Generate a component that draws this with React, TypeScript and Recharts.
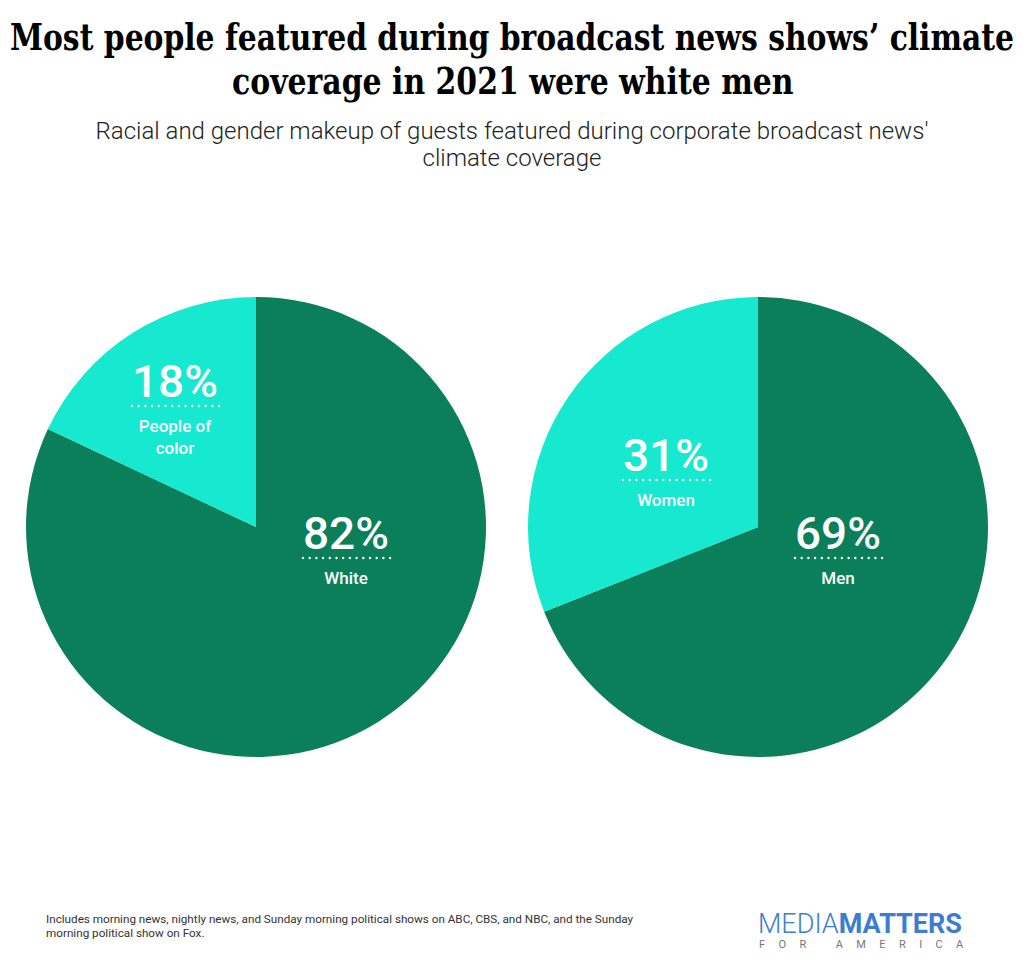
import { PieChart, Pie, Cell } from "recharts";

const raceNames = ["White", "People of color"];
const raceValues = [82, 18];
const genderNames = ["Men", "Women"];
const genderValues = [69, 31];

const titleLines = [
  "Most people featured during broadcast news shows’ climate",
  "coverage in 2021 were white men",
];

const DARK = "#0a7f5a";
const LIGHT = "#17e8d0";

const raceData = raceNames.map((name, i) => ({ name, value: raceValues[i] }));
const genderData = genderNames.map((name, i) => ({ name, value: genderValues[i] }));

// label anchor offsets from pie centre (the original places them by hand)
const labelSpots: Record<string, { dx: number; dy: number; lines: string[] }> = {
  White: { dx: 90, dy: 3, lines: ["White"] },
  "People of color": { dx: -81, dy: -149, lines: ["People of", "color"] },
  Men: { dx: 80, dy: 3, lines: ["Men"] },
  Women: { dx: -92, dy: -75, lines: ["Women"] },
};

function SliceLabel(props: any) {
  const { cx, cy, name, value } = props;
  const spot = labelSpots[name];
  if (!spot) return null;
  const x = cx + spot.dx;
  const y = cy + spot.dy;
  return (
    <g>
      <text
        x={x}
        y={y + 19}
        textAnchor="middle"
        fill="#fff"
        fontFamily="Roboto, sans-serif"
        fontWeight={500}
        fontSize={44}
        textLength={86}
        lengthAdjust="spacingAndGlyphs"
      >
        {value}%
      </text>
      <line
        x1={x - 43}
        x2={x + 45}
        y1={y + 28}
        y2={y + 28}
        stroke="#fff"
        strokeWidth={2.4}
        strokeLinecap="round"
        strokeDasharray="0 6.7"
      />
      {spot.lines.map((l, i) => (
        <text
          key={l}
          x={x}
          y={y + 54 + i * 22}
          textAnchor="middle"
          fill="#fff"
          fontFamily="Roboto, sans-serif"
          fontWeight={500}
          fontSize={17}
        >
          {l}
        </text>
      ))}
    </g>
  );
}

export default function App() {
  return (
    <div
      style={{
        position: "absolute",
        left: 0,
        top: 0,
        width: 1024,
        height: 972,
        background: "#fff",
        overflow: "hidden",
      }}
    >
      <svg
        width={1024}
        height={110}
        style={{ position: "absolute", left: 0, top: 0 }}
      >
        <g transform="translate(512,0) scale(0.8,1)">
          <text
            x={0}
            y={50}
            textAnchor="middle"
            fontFamily="'DejaVu Serif', serif"
            fontWeight={700}
            fontSize={37}
            textLength={1255}
            lengthAdjust="spacingAndGlyphs"
            fill="#000"
          >
            {titleLines[0]}
          </text>
          <text
            x={1}
            y={94}
            textAnchor="middle"
            fontFamily="'DejaVu Serif', serif"
            fontWeight={700}
            fontSize={37}
            textLength={702}
            lengthAdjust="spacingAndGlyphs"
            fill="#000"
          >
            {titleLines[1]}
          </text>
        </g>
      </svg>
      <div
        style={{
          position: "absolute",
          top: 118,
          left: 0,
          width: 1024,
          textAlign: "center",
          fontFamily: "Roboto, sans-serif",
          fontWeight: 300,
          fontSize: 24,
          lineHeight: "27px",
          color: "#222",
        }}
      >
        Racial and gender makeup of guests featured during corporate broadcast news'
        <br />
        climate coverage
      </div>

      <div style={{ position: "absolute", left: 0, top: 0 }}>
        <PieChart
          width={1024}
          height={972}
          margin={{ top: 0, right: 0, bottom: 0, left: 0 }}
        >
          <Pie
            data={raceData}
            dataKey="value"
            nameKey="name"
            cx={256}
            cy={527}
            outerRadius={230}
            startAngle={90}
            endAngle={-270}
            stroke="none"
            label={SliceLabel}
            labelLine={false}
            isAnimationActive={false}
          >
            {raceData.map((d, i) => (
              <Cell key={d.name} fill={i === 0 ? DARK : LIGHT} />
            ))}
          </Pie>
          <Pie
            data={genderData}
            dataKey="value"
            nameKey="name"
            cx={758}
            cy={527}
            outerRadius={230}
            startAngle={90}
            endAngle={-270}
            stroke="none"
            label={SliceLabel}
            labelLine={false}
            isAnimationActive={false}
          >
            {genderData.map((d, i) => (
              <Cell key={d.name} fill={i === 0 ? DARK : LIGHT} />
            ))}
          </Pie>
        </PieChart>
      </div>

      <div
        style={{
          position: "absolute",
          left: 46,
          top: 912,
          width: 700,
          fontFamily: "Roboto, sans-serif",
          fontSize: 11.7,
          lineHeight: "14px",
          color: "#333",
        }}
      >
        Includes morning news, nightly news, and Sunday morning political shows on ABC, CBS, and NBC, and the Sunday
        <br />
        morning political show on Fox.
      </div>

      <div style={{ position: "absolute", left: 758, top: 911, width: 220 }}>
        <div
          style={{
            fontFamily: "Roboto, sans-serif",
            fontSize: 27,
            lineHeight: "27px",
            color: "#3b7dd0",
            letterSpacing: 0,
            whiteSpace: "nowrap",
          }}
        >
          <span style={{ fontWeight: 300 }}>MEDIA</span>
          <span style={{ fontWeight: 700 }}>MATTERS</span>
        </div>
        <div
          style={{
            fontFamily: "Roboto, sans-serif",
            fontSize: 11,
            lineHeight: "12px",
            color: "#777",
            letterSpacing: 13.4,
            marginTop: 1,
            marginLeft: 1,
            whiteSpace: "nowrap",
          }}
        >
          FOR AMERICA
        </div>
      </div>
    </div>
  );
}
